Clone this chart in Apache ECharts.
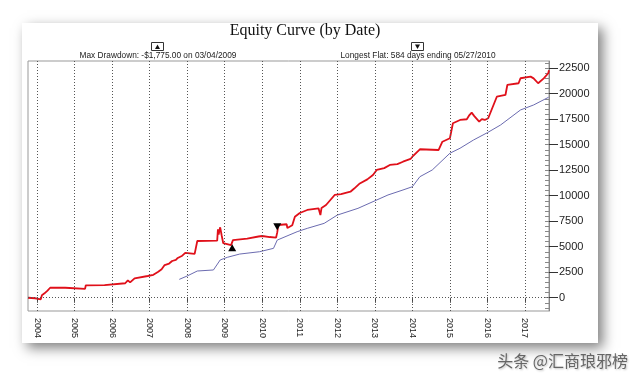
<!DOCTYPE html>
<html><head><meta charset="utf-8">
<script src="https://cdn.jsdelivr.net/npm/echarts@6/dist/echarts.min.js"></script>
<style>html,body{margin:0;padding:0;background:#fff;}#c{width:640px;height:386px;}</style>
</head><body><div id="c"></div>
<script>
// ---- data (x = decimal year) ----
const yearTicks = [2004,2005,2006,2007,2008,2009,2010,2011,2012,2013,2014,2015,2016,2017];
const valueTicks = [0,2500,5000,7500,10000,12500,15000,17500,20000,22500];
const equityYears = [2003.76,2003.95,2004.10,2004.13,2004.20,2004.28,2004.35,2004.75,2004.80,2005.28,2005.30,2005.80,2005.85,2006.35,2006.42,2006.48,2006.60,2006.95,2007.10,2007.23,2007.32,2007.40,2007.52,2007.60,2007.70,2007.75,2007.80,2007.87,2007.92,2007.95,2008.00,2008.20,2008.27,2008.80,2008.82,2008.84,2008.86,2008.88,2008.92,2008.96,2009.17,2009.22,2009.60,2009.90,2010.00,2010.20,2010.37,2010.40,2010.43,2010.65,2010.67,2010.80,2010.87,2011.00,2011.20,2011.50,2011.55,2011.58,2011.70,2011.93,2012.10,2012.35,2012.45,2012.60,2012.80,2012.95,2013.05,2013.25,2013.40,2013.60,2013.75,2013.95,2014.00,2014.20,2014.70,2014.80,2015.00,2015.08,2015.27,2015.45,2015.52,2015.58,2015.65,2015.78,2015.85,2015.93,2016.02,2016.25,2016.48,2016.53,2016.83,2016.88,2017.15,2017.23,2017.35,2017.50,2017.62,2017.64];
const equityValues = [0,-50,-150,250,430,700,980,980,850,870,1220,1230,1410,1420,1700,1500,1900,2130,2250,2550,2800,3200,3350,3600,3700,3900,3850,4120,4000,4400,4350,4300,5560,5600,6700,6200,6600,6900,6100,5360,5150,5650,5800,6000,6050,5950,5900,6400,7130,7200,6830,7100,7940,8300,8600,8760,8100,8800,9090,10070,10150,10390,10700,11200,11600,12030,12520,12700,13010,13100,13330,13600,13820,14550,14480,15290,15630,17100,17420,17490,17900,18140,17800,17250,17500,17420,17590,19700,19870,20850,21020,21510,21670,21500,21020,21500,22000,22300];
const blueYears = [2007.79,2008.00,2008.27,2008.70,2008.88,2009.07,2009.40,2009.93,2010.30,2010.40,2010.93,2011.20,2011.65,2012.00,2012.55,2013.35,2013.75,2014.00,2014.20,2014.53,2015.00,2015.27,2015.63,2016.00,2016.35,2016.88,2017.23,2017.63];
const blueValues = [1800,2130,2620,2720,3700,3960,4280,4510,4840,5650,6470,6800,7290,8100,8760,10070,10560,10880,11860,12520,14160,14650,15460,16180,16930,18400,18890,19650];
const maxDrawdownMark = [2009.2, 4900];
const longestFlatMark = [2010.4, 6950];
const titleText = 'Equity Curve (by Date)';
const ddText = 'Max Drawdown: -$1,775.00 on 03/04/2009';
const flatText = 'Longest Flat: 584 days ending 05/27/2010';
const watermark = '头条 @汇商琅邪榜';
const xMin = 2003.76, xMax = 2017.64, yMin = -1300, yMax = 23200;
const minorTicks = [];
for (let v = -1000; v <= 23000; v += 500) minorTicks.push(v);

const chart = echarts.init(document.getElementById('c'), null, {renderer:'canvas'});
const zip = (a,b) => a.map((x,i)=>[x,b[i]]);
const dotted = {color:'#555', type:[1,2], width:1};

chart.setOption({
  animation:false,
  backgroundColor:'#fff',
  graphic:[
    {type:'rect', z:-10, shape:{x:22,y:23,width:576,height:320},
     style:{fill:'#fff', shadowBlur:12, shadowOffsetX:5, shadowOffsetY:5, shadowColor:'rgba(0,0,0,0.5)'}},
    {type:'text', x:305, y:31, style:{text:titleText, font:'16px "Liberation Serif", serif', fill:'#111', align:'center', verticalAlign:'middle'}},
    {type:'rect', shape:{x:151.5,y:42.5,width:12,height:8}, style:{fill:'#fff', stroke:'#333', lineWidth:1}},
    {type:'polygon', shape:{points:[[155,49],[160,49],[157.5,44.5]]}, style:{fill:'#111'}},
    {type:'text', x:158, y:56, style:{text:ddText, font:'8.3px "Liberation Sans", Arial, sans-serif', fill:'#222', align:'center', verticalAlign:'middle'}},
    {type:'rect', shape:{x:411.5,y:42.5,width:12,height:8}, style:{fill:'#fff', stroke:'#333', lineWidth:1}},
    {type:'polygon', shape:{points:[[415,44.5],[420,44.5],[417.5,49]]}, style:{fill:'#111'}},
    {type:'text', x:418, y:56, style:{text:flatText, font:'8.3px "Liberation Sans", Arial, sans-serif', fill:'#222', align:'center', verticalAlign:'middle'}},
    {type:'text', x:628, y:361, style:{text:watermark, font:'16px "Noto Sans CJK SC", sans-serif', fill:'#666', align:'right', verticalAlign:'middle', textShadowColor:'rgba(0,0,0,0.25)', textShadowBlur:2, textShadowOffsetX:1, textShadowOffsetY:1}}
  ],
  grid:{left:28, right:91, top:61, bottom:75, show:true, borderColor:'#999', borderWidth:1, backgroundColor:'#fff'},
  xAxis:{type:'value', min:xMin, max:xMax,
    axisLine:{show:false},
    axisTick:{show:true, customValues:yearTicks, length:5, lineStyle:{color:'#444'}},
    axisLabel:{customValues:yearTicks, rotate:-90, margin:7, fontSize:9, color:'#222', fontFamily:'"Liberation Sans", Arial, sans-serif', formatter:v=>String(Math.round(v))},
    splitLine:{show:false}},
  yAxis:[
    {type:'value', position:'right', min:yMin, max:yMax,
     axisLine:{show:true, lineStyle:{color:'#888'}},
     axisTick:{show:true, customValues:valueTicks, length:9, lineStyle:{color:'#333'}},
     axisLabel:{customValues:valueTicks, margin:10, fontSize:11, color:'#222', fontFamily:'"Liberation Sans", Arial, sans-serif', formatter:v=>String(Math.round(v))},
     splitLine:{show:false}},
    {type:'value', position:'right', min:yMin, max:yMax,
     axisLine:{show:false},
     axisTick:{show:true, inside:true, customValues:minorTicks, length:4, lineStyle:{color:'#888'}},
     axisLabel:{show:false}, splitLine:{show:false}}
  ],
  series:[
    {type:'line', data:zip(blueYears, blueValues), showSymbol:false, lineStyle:{color:'#6b6bb0', width:1}, z:3},
    {type:'line', data:zip(equityYears, equityValues), showSymbol:false, lineStyle:{color:'#e0101a', width:1.8}, z:4,
     markLine:{silent:true, symbol:'none', label:{show:false}, lineStyle:dotted,
       data: yearTicks.map(y=>({xAxis:y})).concat([{yAxis:0}])},
     markPoint:{silent:true, label:{show:false},
       data:[{coord:maxDrawdownMark, symbol:'triangle', symbolSize:[8,7], itemStyle:{color:'#000'}},
             {coord:longestFlatMark, symbol:'triangle', symbolRotate:180, symbolSize:[8,7], itemStyle:{color:'#000'}}]}}
  ]
});
</script></body></html>
